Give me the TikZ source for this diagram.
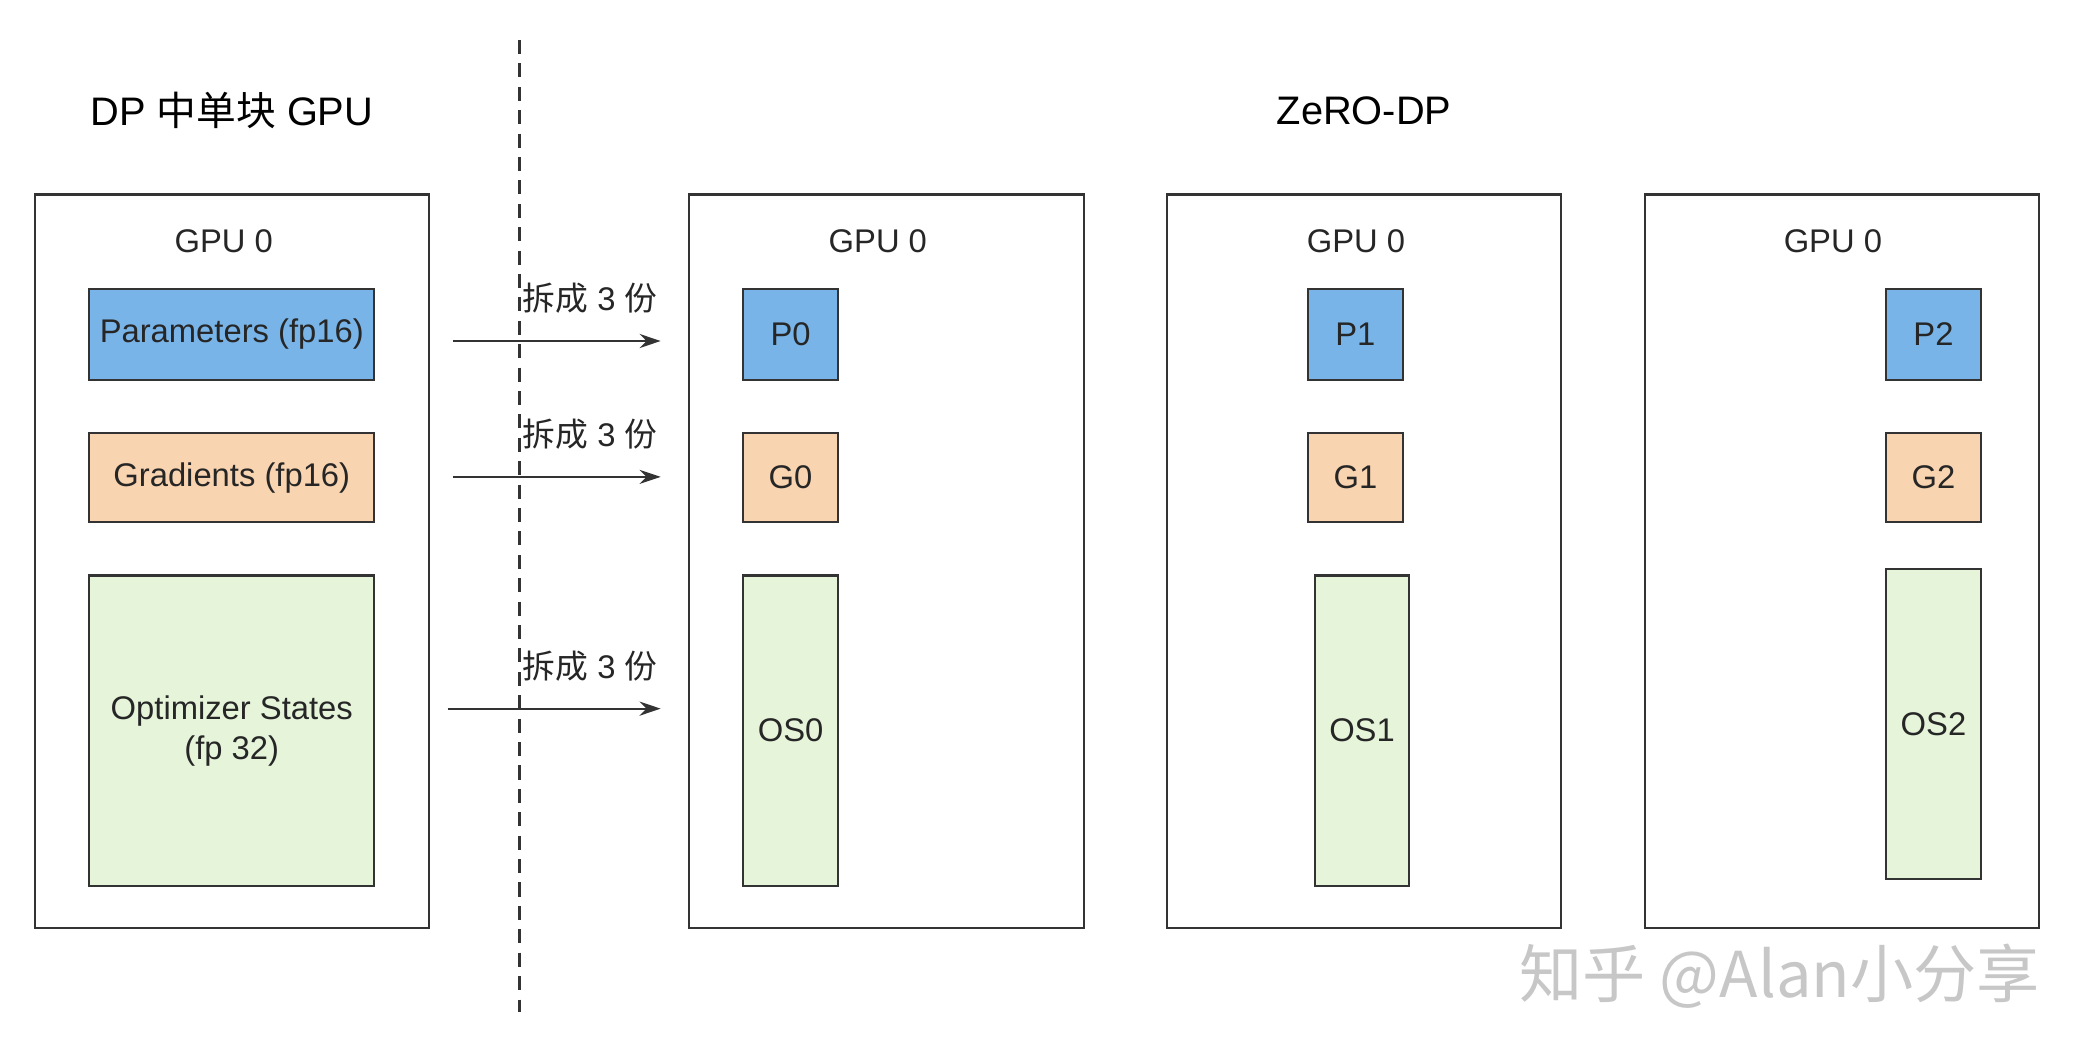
\documentclass[tikz,border=0pt]{standalone}
\usepackage{fontspec}
\setmainfont{Liberation Sans}
\newfontfamily\cjk{Noto Sans CJK SC}
\usetikzlibrary{arrows.meta}
\definecolor{pblue}{HTML}{78B4E8}
\definecolor{gpeach}{HTML}{F9D4B0}
\definecolor{osgreen}{HTML}{E6F5DA}
\definecolor{lineg}{HTML}{333333}
\begin{document}
\begin{tikzpicture}[x=0.02cm,y=-0.02cm,
  gpu/.style={draw=lineg,line width=0.9pt},
  blk/.style={draw=lineg,line width=0.9pt,inner sep=0pt},
  lbl/.style={font=\fontsize{14}{17}\selectfont,text=black!85,align=center},
  arr/.style={draw=lineg,line width=0.9pt,-{Stealth[length=9pt,width=6pt]}}]
\useasboundingbox (0,0) rectangle (1560,791);
% titles
\node[font=\fontsize{17}{20}\selectfont] (t1) at (174,83) {DP {\cjk 中单块} GPU};
\node[font=\fontsize{17}{20}\selectfont] (t2) at (1024,83) {ZeRO-DP};
% dashed
\coordinate (d1) at (390,30); \coordinate (d2) at (390,760);
\draw[dashed,line width=0.9pt,lineg,dash pattern=on 6pt off 4pt] (d1) -- (d2);
% left GPU
\draw[gpu] (26,146) rectangle (322,697);
\node[lbl] (g0) at (168,181) {GPU 0};
\draw[blk,fill=pblue] (67,217) rectangle (281,285) node[lbl,midway] (par) {Parameters (fp16)};
\draw[blk,fill=gpeach] (67,325) rectangle (281,392) node[lbl,midway] (gra) {Gradients (fp16)};
\draw[blk,fill=osgreen] (67,432) rectangle (281,665) node[lbl,midway] (ost) {Optimizer States\\(fp 32)};
% arrows
\coordinate (a1s) at (340,256); \coordinate (a1e) at (496,256);
\coordinate (a2s) at (340,358); \coordinate (a2e) at (496,358);
\coordinate (a3s) at (336,532); \coordinate (a3e) at (496,532);
\draw[arr] (a1s) -- (a1e);
\draw[arr] (a2s) -- (a2e);
\draw[arr] (a3s) -- (a3e);
\node[lbl] (l1) at (443,224) {{\cjk 拆成} 3 {\cjk 份}};
\node[lbl] (l2) at (443,326) {{\cjk 拆成} 3 {\cjk 份}};
\node[lbl] (l3) at (443,500) {{\cjk 拆成} 3 {\cjk 份}};
% box 2
\draw[gpu] (517,146) rectangle (814,697);
\node[lbl] (g1) at (659,181) {GPU 0};
\draw[blk,fill=pblue] (558,217) rectangle (629,285) node[lbl,midway] (p0) {P0};
\draw[blk,fill=gpeach] (558,325) rectangle (629,392) node[lbl,midway] (gg0) {G0};
\draw[blk,fill=osgreen] (558,432) rectangle (629,665) node[lbl,midway] (os0) {OS0};
% box 3
\draw[gpu] (876,146) rectangle (1172,697);
\node[lbl] (g2) at (1018,181) {GPU 0};
\draw[blk,fill=pblue] (982,217) rectangle (1053,285) node[lbl,midway] (p1) {P1};
\draw[blk,fill=gpeach] (982,325) rectangle (1053,392) node[lbl,midway] (gg1) {G1};
\draw[blk,fill=osgreen] (987,432) rectangle (1058,665) node[lbl,midway] (os1) {OS1};
% box 4
\draw[gpu] (1235,146) rectangle (1531,697);
\node[lbl] (g3) at (1376,181) {GPU 0};
\draw[blk,fill=pblue] (1416,217) rectangle (1487,285) node[lbl,midway] (p2) {P2};
\draw[blk,fill=gpeach] (1416,325) rectangle (1487,392) node[lbl,midway] (gg2) {G2};
\draw[blk,fill=osgreen] (1416,427) rectangle (1487,660) node[lbl,midway] (os2) {OS2};
% watermark
\node[font=\cjk\fontsize{27}{30}\selectfont,text=black!22] (wm) at (1336,733) {知乎 @Alan小分享};
\end{tikzpicture}
\end{document}
